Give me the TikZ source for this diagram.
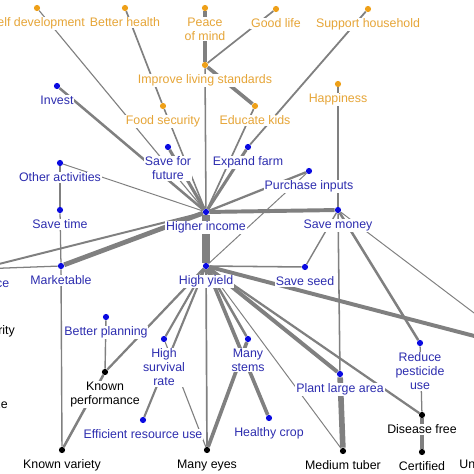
\documentclass[tikz,border=0pt]{standalone}
\usepackage{fontspec}
\setmainfont{Liberation Sans}
\usetikzlibrary{positioning,backgrounds}
\definecolor{cblue}{RGB}{45,45,175}
\definecolor{dblue}{RGB}{10,10,225}
\definecolor{corange}{RGB}{230,165,55}
\definecolor{dorange}{RGB}{238,160,25}
\definecolor{edgegray}{RGB}{128,128,128}

\begin{document}
\begin{tikzpicture}[
  x=0.025cm,y=-0.025cm,
  font=\fontsize{8.8}{10}\selectfont,
  dot/.style={circle, inner sep=0pt, minimum size=4.4pt},
  bdot/.style={dot, fill=dblue},
  odot/.style={dot, fill=dorange},
  kdot/.style={dot, fill=black},
  lbl/.style={fill=white, inner sep=0.6pt, align=center},
  blbl/.style={lbl, text=cblue},
  olbl/.style={lbl, text=corange},
  klbl/.style={lbl, text=black},
  conn/.style={draw=edgegray, line width=#1},
  conn/.default=1pt
]
  \useasboundingbox (0,0) rectangle (474,474);

  % goals (orange)
  \node[odot] (sd) at (37,8) {};
  \node[olbl, below=3.7pt of sd] (sd-l) {Self development};
  \node[odot] (bh) at (125,8) {};
  \node[olbl, below=3.7pt of bh] (bh-l) {Better health};
  \node[odot] (pm) at (205,8) {};
  \node[olbl, below=3.7pt of pm] (pm-l) {Peace\\of mind};
  \node[odot] (gl) at (276,9) {};
  \node[olbl, below=3.7pt of gl] (gl-l) {Good life};
  \node[odot] (sh) at (368,9) {};
  \node[olbl, below=3.7pt of sh] (sh-l) {Support household};
  \node[odot] (ils) at (205,65) {};
  \node[olbl, below=3.7pt of ils] (ils-l) {Improve living standards};
  \node[odot] (hap) at (338,84) {};
  \node[olbl, below=3.7pt of hap] (hap-l) {Happiness};
  \node[odot] (fs) at (163,106) {};
  \node[olbl, below=3.7pt of fs] (fs-l) {Food security};
  \node[odot] (ek) at (255,106) {};
  \node[olbl, below=3.7pt of ek] (ek-l) {Educate kids};

  % consequences (blue)
  \node[bdot] (inv) at (57,86) {};
  \node[blbl, below=3.7pt of inv] (inv-l) {Invest};
  \node[bdot] (sff) at (168,147) {};
  \node[blbl, below=3.7pt of sff] (sff-l) {Save for\\future};
  \node[bdot] (ef) at (248,147) {};
  \node[blbl, below=3.7pt of ef] (ef-l) {Expand farm};
  \node[bdot] (oa) at (60,163) {};
  \node[blbl, below=3.7pt of oa] (oa-l) {Other activities};
  \node[bdot] (pi) at (309,171) {};
  \node[blbl, below=3.7pt of pi] (pi-l) {Purchase inputs};
  \node[bdot] (st) at (60,210) {};
  \node[blbl, below=3.7pt of st] (st-l) {Save time};
  \node[bdot] (hi) at (206,212) {};
  \node[blbl, below=3.7pt of hi] (hi-l) {Higher income};
  \node[bdot] (sm) at (338,210) {};
  \node[blbl, below=3.7pt of sm] (sm-l) {Save money};
  \node[bdot] (mk) at (61,266) {};
  \node[blbl, below=3.7pt of mk] (mk-l) {Marketable};
  \node[bdot] (hy) at (206,266) {};
  \node[blbl, below=3.7pt of hy] (hy-l) {High yield};
  \node[bdot] (ss) at (305,267) {};
  \node[blbl, below=3.7pt of ss] (ss-l) {Save seed};
  \coordinate (gp) at (-21,269);
  \node[blbl, below=5.9pt of gp] (gp-l) {Good price};
  \node[bdot] (bp) at (106,317) {};
  \node[blbl, below=3.7pt of bp] (bp-l) {Better planning};
  \node[bdot] (hsr) at (164,339) {};
  \node[blbl, below=3.7pt of hsr] (hsr-l) {High\\survival\\rate};
  \node[bdot] (ms) at (248,339) {};
  \node[blbl, below=3.7pt of ms] (ms-l) {Many\\stems};
  \node[bdot] (rpu) at (420,343) {};
  \node[blbl, below=3.7pt of rpu] (rpu-l) {Reduce\\pesticide\\use};
  \node[bdot] (pla) at (340,374) {};
  \node[blbl, below=3.7pt of pla] (pla-l) {Plant large area};
  \node[bdot] (hc) at (269,418) {};
  \node[blbl, below=3.7pt of hc] (hc-l) {Healthy crop};
  \node[bdot] (eru) at (143,420) {};
  \node[blbl, below=3.7pt of eru] (eru-l) {Efficient resource use};

  % attributes (black)
  \node[klbl] (em-l) at (-23,331) {Early maturity};
  \node[klbl] (ts-l) at (-21,404) {Tuber size};
  \node[kdot] (kp) at (105,372) {};
  \node[klbl, below=3.7pt of kp] (kp-l) {Known\\performance};
  \node[kdot] (df) at (422,415) {};
  \node[klbl, below=3.7pt of df] (df-l) {Disease free};
  \node[kdot] (kv) at (62,450) {};
  \node[klbl, below=3.7pt of kv] (kv-l) {Known variety};
  \node[kdot] (me) at (207,450) {};
  \node[klbl, below=3.7pt of me] (me-l) {Many eyes};
  \node[kdot] (mt) at (343,451) {};
  \node[klbl, below=3.7pt of mt] (mt-l) {Medium tuber};
  \node[kdot] (cert) at (422,452) {};
  \node[klbl, below=3.7pt of cert] (cert-l) {Certified};
  \node[klbl] (unc-l) at (489,464) {Uncertified};
  \coordinate (offa) at (482,338);
  \coordinate (offb) at (482,319);

  \begin{scope}[on background layer]
    \draw[conn=0.8pt] (hi) -- (sd);
    \draw[conn=1.2pt] (fs) -- (bh);
    \draw[conn=2.2pt] (ils) -- (pm);
    \draw[conn=1.2pt] (ils) -- (gl);
    \draw[conn=2.6pt] (ek) -- (ils);
    \draw[conn=1.3pt] (ef) -- (sh);
    \draw[conn=1.1pt] (sm) -- (hap);
    \draw[conn=1.8pt] (hi) -- (inv);
    \draw[conn=1.1pt] (hi) -- (fs);
    \draw[conn=1.1pt] (hi) -- (ils);
    \draw[conn=2.2pt] (hi) -- (sff);
    \draw[conn=2.2pt] (hi) -- (ef);
    \draw[conn=1.2pt] (hi) -- (ek);
    \draw[conn=0.7pt] (hi) -- (oa);
    \draw[conn=1.6pt] (hi) -- (pi);
    \draw[conn=2.8pt] (hi) -- (sm);
    \draw[conn=1.4pt] (hi) -- (gp);
    \draw[conn=3.4pt] (mk) -- (hi);
    \draw[conn=0.9pt] (mk) -- (gp);
    \draw[conn=0.9pt] (st) -- (oa);
    \draw[conn=0.9pt] (mk) -- (st);
    \draw[conn=1pt] (kv) -- (mk);
    \draw[conn=5.5pt] (hy) -- (hi);
    \draw[conn=0.7pt] (hy) -- (pi);
    \draw[conn=1.1pt] (hy) -- (ss);
    \draw[conn=1.6pt] (kp) -- (hy);
    \draw[conn=1pt] (kp) -- (bp);
    \draw[conn=1.8pt] (kv) -- (kp);
    \draw[conn=1.5pt] (hsr) -- (hy);
    \draw[conn=1.5pt] (eru) -- (hy);
    \draw[conn=0.8pt] (me) -- (hsr);
    \draw[conn=1.2pt] (me) -- (hy);
    \draw[conn=1.8pt] (ms) -- (hy);
    \draw[conn=2.6pt] (hc) -- (hy);
    \draw[conn=2.6pt] (me) -- (ms);
    \draw[conn=0.7pt] (mt) -- (hy);
    \draw[conn=2.8pt] (pla) -- (hy);
    \draw[conn=1.6pt] (df) -- (hy);
    \draw[conn=2.8pt] (hy) -- (offa);
    \draw[conn=1pt] (ss) -- (sm);
    \draw[conn=1.1pt] (pla) -- (sm);
    \draw[conn=1.8pt] (rpu) -- (sm);
    \draw[conn=0.7pt] (sm) -- (offb);
    \draw[conn=0.9pt] (df) -- (rpu);
    \draw[conn=4pt] (mt) -- (pla);
    \draw[conn=2.6pt] (cert) -- (df);
  \end{scope}
\end{tikzpicture}
\end{document}
